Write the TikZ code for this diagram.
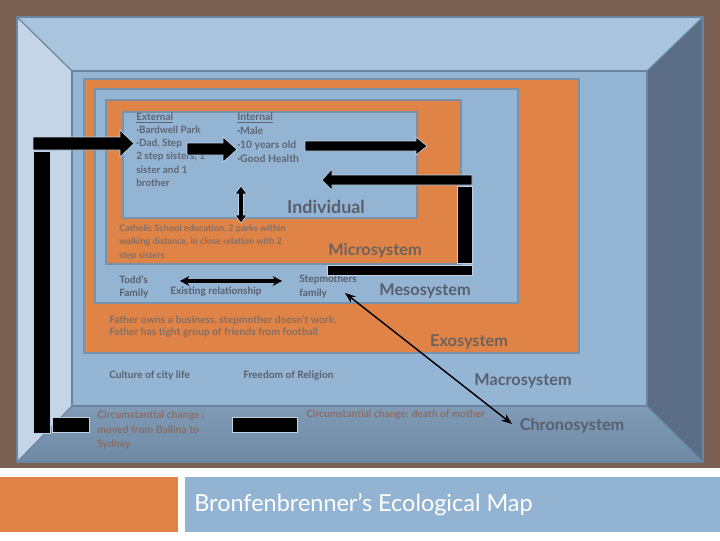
\documentclass[tikz,border=0pt]{standalone}
\usepackage{fontspec}
\setmainfont{Lato}
\usetikzlibrary{arrows.meta}
\definecolor{brownbg}{HTML}{7A5F53}
\definecolor{topwall}{HTML}{A9C4DD}
\definecolor{leftwall}{HTML}{C3D5E6}
\definecolor{rightwall}{HTML}{5B6E85}
\definecolor{floortop}{HTML}{7F9BB6}
\definecolor{floorbot}{HTML}{6F8AA5}
\definecolor{backwall}{HTML}{95B5D4}
\definecolor{edgeblue}{HTML}{6B85A0}
\definecolor{orng}{HTML}{DF8346}
\definecolor{lblue}{HTML}{94B4D3}
\definecolor{labelgrey}{HTML}{58606D}
\definecolor{txtgrey}{HTML}{5E6572}
\definecolor{txtbrown}{HTML}{876E62}
\definecolor{chrbrown}{HTML}{8A6C66}
\definecolor{orlabel}{HTML}{6E625C}
\definecolor{titleblue}{HTML}{93B3D3}
\newcommand\bul{·}
\tikzset{
  wall/.style={draw=edgeblue, line width=0.9pt, line join=round},
  layerbox/.style={draw=edgeblue!90, line width=1.1pt},
  blockarrow/.style={fill=black, draw=lblue!60!white, line width=0.5pt},
  syslabel/.style={font=\bfseries\fontsize{12.2}{14}\selectfont, text=labelgrey, inner sep=0pt},
  smalltxt/.style={font=\bfseries\fontsize{7.6}{9.9}\selectfont, align=left, inner sep=0pt},
  thinarrow/.style={draw=black, line width=1.1pt, {Stealth[length=8pt,width=6pt]}-{Stealth[length=8pt,width=6pt]}},
  medarrow/.style={draw=black, line width=2.6pt, {Stealth[length=7pt,width=7.5pt]}-{Stealth[length=7pt,width=7.5pt]}}
}
\begin{document}
\begin{tikzpicture}[x=0.75pt,y=-0.75pt]
\useasboundingbox (0,0) rectangle (720,540);
\fill[white] (0,0) rectangle (720,540);
\fill[brownbg] (0,0) rectangle (720,468);
% room walls
\fill[backwall] (72,71) rectangle (647,406);
\fill[topwall] (17,17) -- (703,17) -- (647,71) -- (72,71) -- cycle;
\fill[leftwall] (17,17) -- (72,71) -- (72,406) -- (17,462) -- cycle;
\fill[rightwall] (703,17) -- (703,462) -- (647,406) -- (647,71) -- cycle;
\shade[top color=floortop, bottom color=floorbot] (17,462) -- (72,406) -- (647,406) -- (703,462) -- cycle;
\draw[wall] (17,17) rectangle (703,462);
\draw[wall] (72,71) rectangle (647,406);
\draw[wall] (17,17) -- (72,71) (703,17) -- (647,71) (17,462) -- (72,406) (703,462) -- (647,406);
% nested layers
\draw[layerbox, fill=orng] (84,79) rectangle (579,353);
\draw[layerbox, fill=lblue] (95,89) rectangle (518,303);
\draw[layerbox, fill=orng] (106,100) rectangle (461,264);
\draw[layerbox, fill=lblue] (123,112) rectangle (417,218);
% title bar
\fill[orng] (0,477) rectangle (178,532);
\fill[titleblue] (185,477) rectangle (720,532);
\node[anchor=west, text=white, inner sep=0pt, font=\fontsize{17.6}{20}\selectfont] (title) at (194,505) {Bronfenbrenner’s Ecological Map};
% Individual texts
\node[smalltxt, text=txtgrey, anchor=north west, font=\bfseries\fontsize{7.5}{9.9}\selectfont] (external) at (136,112.5) {\underline{External}\\\bul Bardwell Park\\\bul Dad, Step\\2 step sisters, 1\\sister and 1\\brother};
\node[smalltxt, text=txtgrey, anchor=north west, font=\bfseries\fontsize{7.8}{10.6}\selectfont] (internal) at (237,112.5) {\underline{Internal}\\\bul Male\\\bul 10 years old\\\bul Good Health};
\node[syslabel, font=\bfseries\fontsize{13.4}{15}\selectfont] (indiv) at (326,207) {Individual};
% Microsystem
\node[smalltxt, text=txtbrown, anchor=north west, font=\bfseries\fontsize{6.8}{10.1}\selectfont] (school) at (119,224.5) {Catholic School education, 2 parks within\\walking distance, in close relation with 2\\step sisters};
\node[syslabel, text=orlabel] (micro) at (375,251) {Microsystem};
% Mesosystem
\node[smalltxt, text=labelgrey, anchor=north west] (todd) at (119,275) {Todd’s\\Family};
\node[smalltxt, text=labelgrey, anchor=west] (exist) at (170,292) {Existing relationship};
\node[smalltxt, text=labelgrey, anchor=north west] (stepm) at (299,275) {Stepmothers\\family};
\node[syslabel] (meso) at (425,291) {Mesosystem};
% Exosystem
\node[smalltxt, text=txtbrown, anchor=north west, font=\bfseries\fontsize{7.7}{9.4}\selectfont] (father) at (109,315) {Father owns a business, stepmother doesn’t work.\\Father has tight group of friends from football};
\node[syslabel, text=orlabel] (exo) at (469,342) {Exosystem};
% Macrosystem
\node[smalltxt, text=labelgrey, anchor=west] (culture) at (109,376) {Culture of city life};
\node[smalltxt, text=labelgrey, anchor=west] (religion) at (243,376) {Freedom of Religion};
\node[syslabel] (macro) at (523,381) {Macrosystem};
% Chronosystem
\node[smalltxt, text=chrbrown, anchor=north west, font=\bfseries\fontsize{7.8}{10.9}\selectfont] (moved) at (97,410.5) {Circumstantial change :\\moved from Ballina to\\Sydney};
\node[smalltxt, text=chrbrown, anchor=west, font=\bfseries\fontsize{7.6}{9.9}\selectfont] (death) at (306,415) {Circumstantial change: death of mother};
\node[syslabel] (chrono) at (572,426) {Chronosystem};
% block arrows
\path[blockarrow] (33,137) -- (120,137) -- (120,130) -- (134,143.5) -- (120,157) -- (120,150) -- (33,150) -- cycle;
\path[blockarrow] (33,151) rectangle (50,433);
\path[blockarrow] (52,417) rectangle (89,432);
\path[blockarrow] (232,417) rectangle (297,432);
\path[blockarrow] (187,143) -- (223,143) -- (223,137) -- (237,149.5) -- (223,162) -- (223,155) -- (187,155) -- cycle;
\path[blockarrow] (305,141) -- (416,141) -- (416,137) -- (427,146) -- (416,155) -- (416,151) -- (305,151) -- cycle;
\path[blockarrow] (472,175) -- (332,175) -- (332,169) -- (322,180) -- (332,190) -- (332,185) -- (472,185) -- cycle;
\path[blockarrow] (457,186) rectangle (472,263);
\path[blockarrow] (327,265) rectangle (472,275);
\path[blockarrow] (241,186) -- (247,194) -- (243.5,194) -- (243.5,215) -- (247,215) -- (241,223) -- (235,215) -- (238.5,215) -- (238.5,194) -- (235,194) -- cycle;
% connectors
\coordinate (mesoL) at (180,281);
\coordinate (mesoR) at (282,281);
\draw[medarrow] (mesoL) -- (mesoR);
\coordinate (stepEnd) at (345,293);
\coordinate (chronoEnd) at (512,424);
\draw[thinarrow] (stepEnd) -- (chronoEnd);
\end{tikzpicture}
\end{document}
